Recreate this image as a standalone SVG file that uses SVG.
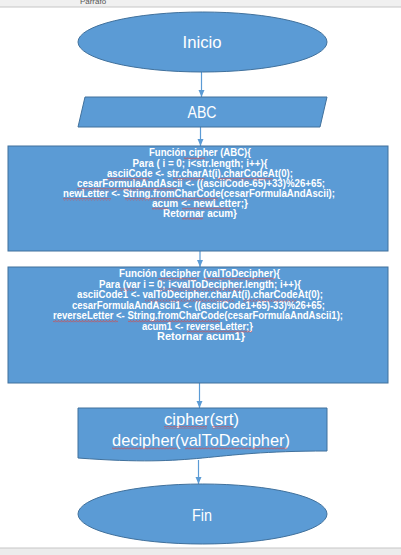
<svg xmlns="http://www.w3.org/2000/svg" width="401" height="555" viewBox="0 0 401 555">
<style>
.shape{fill:#5B9BD5;stroke:#41719C;stroke-width:1}
.big{font-family:"Liberation Sans","DejaVu Sans",sans-serif;fill:#ffffff;font-size:17px;text-anchor:middle}
.code{font-family:"Liberation Sans","DejaVu Sans",sans-serif;fill:#ffffff;font-size:10px;font-weight:bold;text-anchor:middle}
.conn{stroke:#5B9BD5;stroke-width:1.2;fill:none;marker-end:url(#ah)}
.sq{fill:url(#wave)}
</style>
<defs>
<marker id="ah" markerWidth="8" markerHeight="8" refX="7" refY="4" orient="auto" markerUnits="userSpaceOnUse">
<path d="M0,1 L7,4 L0,7 Z" fill="#5B9BD5"/>
</marker>
<pattern id="wave" width="3" height="2.5" patternUnits="userSpaceOnUse">
<path d="M0,2 L1.5,0.5 L3,2" fill="none" stroke="#e0403a" stroke-width="0.8"/>
</pattern>
</defs>
<rect x="0" y="0" width="401" height="555" fill="#ffffff"/>
<g id="chrome-top">
<rect x="0" y="0" width="401" height="7" fill="#f0f0f0"/>
<line x1="0" y1="7" x2="401" y2="7" stroke="#c6c6c6" stroke-width="1"/>
<text x="93" y="4" font-family="Liberation Sans, sans-serif" font-size="8" fill="#555" text-anchor="middle">Párrafo</text>
</g>
<g id="chrome-bottom">
<rect x="0" y="548" width="401" height="7" fill="#ececec"/>
<line x1="0" y1="548" x2="401" y2="548" stroke="#c6c6c6" stroke-width="1"/>
</g>
<g id="connectors">
<line class="conn" x1="201.5" y1="72" x2="201.5" y2="97"/>
<line class="conn" x1="200.5" y1="127" x2="200.5" y2="146"/>
<line class="conn" x1="200" y1="251" x2="200" y2="267"/>
<line class="conn" x1="199.5" y1="383" x2="199.5" y2="408"/>
<line class="conn" x1="198.5" y1="460" x2="198.5" y2="484"/>
</g>
<g id="inicio">
<ellipse class="shape" cx="202.5" cy="42" rx="124.5" ry="30"/>
<text class="big" x="202" y="48" textLength="39" lengthAdjust="spacingAndGlyphs">Inicio</text>
</g>
<g id="abc">
<polygon class="shape" points="85,97 327,97 320,127 78,127"/>
<text class="big" x="202" y="118" textLength="29" lengthAdjust="spacingAndGlyphs">ABC</text>
</g>
<g id="cipher">
<rect class="shape" x="8" y="146" width="380" height="105"/>
<text class="code" x="200" y="156" textLength="102" lengthAdjust="spacingAndGlyphs">Función <tspan>cipher</tspan> (ABC){</text>
<text class="code" x="200" y="166.5" textLength="135" lengthAdjust="spacingAndGlyphs">Para ( i = 0; i&lt;str.length; i++){</text>
<text class="code" x="200" y="177" textLength="186" lengthAdjust="spacingAndGlyphs"><tspan>asciiCode</tspan> &lt;- str.<tspan>charAt</tspan>(i).<tspan>charCodeAt</tspan>(0);</text>
<text class="code" x="201" y="187" textLength="248" lengthAdjust="spacingAndGlyphs"><tspan>cesarFormulaAndAscii</tspan> &lt;- ((asciiCode-65)+33)%26+65;</text>
<text class="code" x="199" y="197" textLength="272" lengthAdjust="spacingAndGlyphs"><tspan>newLetter</tspan> &lt;- <tspan>String.fromCharCode</tspan>(cesarFormulaAndAscii);</text>
<text class="code" x="200" y="206.5" textLength="96" lengthAdjust="spacingAndGlyphs"><tspan>acum</tspan> &lt;- <tspan>newLetter</tspan>;}</text>
<text class="code" x="200" y="216.5" textLength="74" lengthAdjust="spacingAndGlyphs">Retornar <tspan>acum</tspan>}</text>
<rect class="sq" x="184" y="157" width="21" height="2.5"/>
<rect class="sq" x="107" y="178" width="42" height="2.5"/>
<rect class="sq" x="173" y="178" width="32" height="2.5"/>
<rect class="sq" x="217" y="178" width="56" height="2.5"/>
<rect class="sq" x="77" y="188" width="100" height="2.5"/>
<rect class="sq" x="63" y="198" width="48" height="2.5"/>
<rect class="sq" x="125" y="198" width="93" height="2.5"/>
<rect class="sq" x="152" y="207.5" width="16" height="2.5"/>
<rect class="sq" x="182" y="207.5" width="48" height="2.5"/>
<rect class="sq" x="182" y="217.5" width="21" height="2.5"/>
</g>
<g id="decipher">
<rect class="shape" x="8" y="267" width="380" height="116"/>
<text class="code" x="199.5" y="277" textLength="161" lengthAdjust="spacingAndGlyphs">Función <tspan>decipher</tspan> (<tspan>valToDecipher</tspan>){</text>
<text class="code" x="200" y="287.5" textLength="202" lengthAdjust="spacingAndGlyphs">Para (<tspan>var</tspan> i = 0; i&lt;<tspan>valToDecipher.length</tspan>; i++){</text>
<text class="code" x="200" y="298" textLength="246" lengthAdjust="spacingAndGlyphs">asciiCode1 &lt;-  <tspan>valToDecipher.charAt</tspan>(i).<tspan>charCodeAt</tspan>(0);</text>
<text class="code" x="198.5" y="308.5" textLength="253" lengthAdjust="spacingAndGlyphs">cesarFormulaAndAscii1 &lt;- ((asciiCode1+65)-33)%26+65;</text>
<text class="code" x="198" y="319" textLength="290" lengthAdjust="spacingAndGlyphs"><tspan>reverseLetter</tspan> &lt;- <tspan>String.fromCharCode</tspan>(cesarFormulaAndAscii1);</text>
<text class="code" x="197.5" y="329.5" textLength="111" lengthAdjust="spacingAndGlyphs">acum1 &lt;- <tspan>reverseLetter;</tspan>}</text>
<text class="code" x="201" y="339.5" textLength="88" lengthAdjust="spacingAndGlyphs">Retornar  acum1}</text>
<rect class="sq" x="158" y="278" width="39" height="2.5"/>
<rect class="sq" x="204" y="278" width="71" height="2.5"/>
<rect class="sq" x="120" y="288.5" width="15" height="2.5"/>
<rect class="sq" x="159" y="288.5" width="83" height="2.5"/>
<rect class="sq" x="145" y="299" width="90" height="2.5"/>
<rect class="sq" x="243" y="299" width="54" height="2.5"/>
<rect class="sq" x="53" y="320" width="65" height="2.5"/>
<rect class="sq" x="128" y="320" width="92" height="2.5"/>
<rect class="sq" x="187" y="330.5" width="65" height="2.5"/>
</g>
<g id="output">
<path class="shape" d="M78,408 H327 V451 C202.5,451 202.5,467.3 78,458 Z"/>
<text class="big" x="201.5" y="425" textLength="75" lengthAdjust="spacingAndGlyphs"><tspan>cipher</tspan>(<tspan>srt</tspan>)</text>
<text class="big" x="201" y="446" textLength="178" lengthAdjust="spacingAndGlyphs"><tspan>decipher</tspan>(<tspan>valToDecipher</tspan>)</text>
<rect class="sq" x="164" y="426" width="43" height="2.5"/>
<rect class="sq" x="212" y="426" width="21" height="2.5"/>
<rect class="sq" x="112" y="447" width="65" height="2.5"/>
<rect class="sq" x="185" y="447" width="102" height="2.5"/>
</g>
<g id="fin">
<ellipse class="shape" cx="202.5" cy="514" rx="124.5" ry="30"/>
<text class="big" x="202" y="520.5" textLength="20" lengthAdjust="spacingAndGlyphs">Fin</text>
</g>
</svg>
